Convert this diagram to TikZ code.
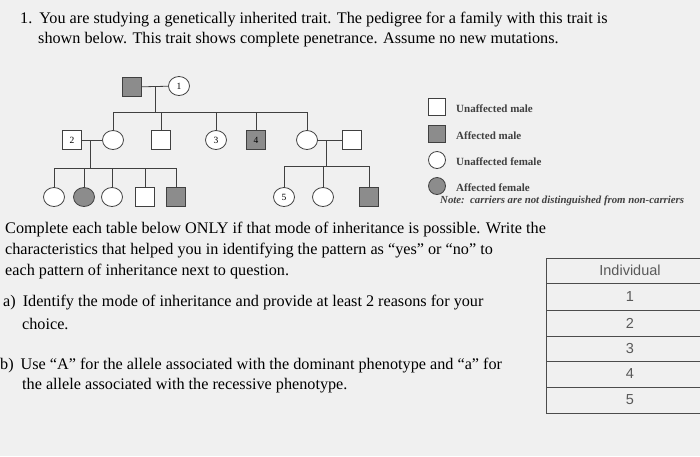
\documentclass[tikz,border=0pt]{standalone}
\usepackage{fontspec}
\usetikzlibrary{shapes.geometric}
\setmainfont{Liberation Serif}
\newfontfamily\legfont{Liberation Serif}
\newfontfamily\tabfont{Liberation Sans}
\begin{document}
\begin{tikzpicture}[x=1pt,y=-1pt,
  ln/.style={draw=black!75,line width=0.8pt},
  msq/.style={ln,rectangle,minimum size=19pt,inner sep=0pt,fill=white,font=\legfont\fontsize{9.5}{10}\selectfont},
  fsq/.style={msq,fill=black!45},
  fci/.style={ln,ellipse,minimum width=21pt,minimum height=19pt,inner sep=0pt,fill=white,font=\legfont\fontsize{9.5}{10}\selectfont},
  ffc/.style={fci,fill=black!45},
  txt/.style={anchor=west,inner sep=0pt,font=\fontsize{16.2}{18}\selectfont},
  leg/.style={anchor=west,inner sep=0pt,font=\legfont\bfseries\fontsize{11}{12}\selectfont,text=black!75}]
\fill[black!6] (0,0) rectangle (700,456);
\useasboundingbox (0,0) rectangle (700,456);
% texts
\node[txt] (t1) at (20,20) {1.\hspace{7pt}You are studying a genetically inherited trait. The pedigree for a family with this trait is};
\node[txt] (t2) at (38,40) {shown below. This trait shows complete penetrance. Assume no new mutations.};
\node[txt] (p1) at (5,230) {Complete each table below ONLY if that mode of inheritance is possible. Write the};
\node[txt] (p2) at (5,251) {characteristics that helped you in identifying the pattern as ``yes'' or ``no'' to};
\node[txt] (p3) at (5,272) {each pattern of inheritance next to question.};
\node[txt] (a1) at (3,303) {a)\hspace{7pt}Identify the mode of inheritance and provide at least 2 reasons for your};
\node[txt] (a2) at (22,324) {choice.};
\node[txt] (b1) at (0,366) {b)\hspace{7pt}Use ``A'' for the allele associated with the dominant phenotype and ``a'' for};
\node[txt] (b2) at (22,386) {the allele associated with the recessive phenotype.};
% pedigree gen I
\node[fsq] (g1) at (132,87) {};
\node[fci] (i1) at (179,86) {1};
\coordinate (m1) at (155,86);
\coordinate (d1) at (155,112);
\draw[ln] (g1) -- (i1);
\draw[ln] (m1) -- (d1);
\draw[ln] (113,112) -- (307,112);
% gen II
\node[msq] (s2) at (72,140) {2};
\node[fci] (c2a) at (113,140) {};
\node[msq] (s2b) at (161,140) {};
\node[fci] (c3) at (216,140) {3};
\node[fsq] (s4) at (256,140) {4};
\node[fci] (c2e) at (307,140) {};
\node[msq] (s2f) at (352,140) {};
\foreach \n/\xx in {c2a/113,s2b/161,c3/216,s4/256,c2e/307}{\draw[ln] (\xx,112) -- (\n);}
\draw[ln] (s2) -- (c2a);
\draw[ln] (c2e) -- (s2f);
\draw[ln] (90,140) -- (90,168) (54,168) -- (176,168);
\draw[ln] (326,140) -- (326,166) (284,166) -- (369,166);
% gen III
\node[fci] (k1) at (54,197) {};
\node[ffc] (k2) at (84,197) {};
\node[fci] (k3) at (112,197) {};
\node[msq] (k4) at (145,197) {};
\node[fsq] (k5) at (176,197) {};
\foreach \n/\xx in {k1/54,k2/84,k3/112,k4/145,k5/176}{\draw[ln] (\xx,168) -- (\n);}
\node[fci] (r1) at (284,197) {5};
\node[fci] (r2) at (323,197) {};
\node[fsq] (r3) at (369,197) {};
\foreach \n/\xx in {r1/284,r2/323,r3/369}{\draw[ln] (\xx,166) -- (\n);}
% legend
\node[msq,minimum size=17pt] (l1) at (437,107) {};
\node[fsq,minimum size=17pt] (l2) at (437,134) {};
\node[fci,minimum width=17pt,minimum height=17pt] (l3) at (437,160) {};
\node[ffc,minimum width=17pt,minimum height=17pt] (l4) at (437,186) {};
\node[leg] (lt1) at (456,109) {Unaffected male};
\node[leg] (lt2) at (456,136) {Affected male};
\node[leg] (lt3) at (456,162) {Unaffected female};
\node[leg] (lt4) at (456,188) {Affected female};
\node[leg,font=\legfont\bfseries\itshape\fontsize{10.8}{12}\selectfont] (lt5) at (440,201) {Note:\ \ carriers are not distinguished from non-carriers};
% table
\draw[draw=black!70,line width=0.9pt] (546,258) rectangle (705,413);
\foreach \yy in {283,310,336,361,387}{\draw[draw=black!70,line width=0.9pt] (546,\yy) -- (705,\yy);}
\foreach \lab/\yy [count=\i] in {Individual/270,1/297,2/323,3/348,4/374,5/400}{
  \node[font=\tabfont\fontsize{14.5}{15}\selectfont,text=black!65] (tb\i) at (630,\yy) {\lab};}
\end{tikzpicture}
\end{document}
